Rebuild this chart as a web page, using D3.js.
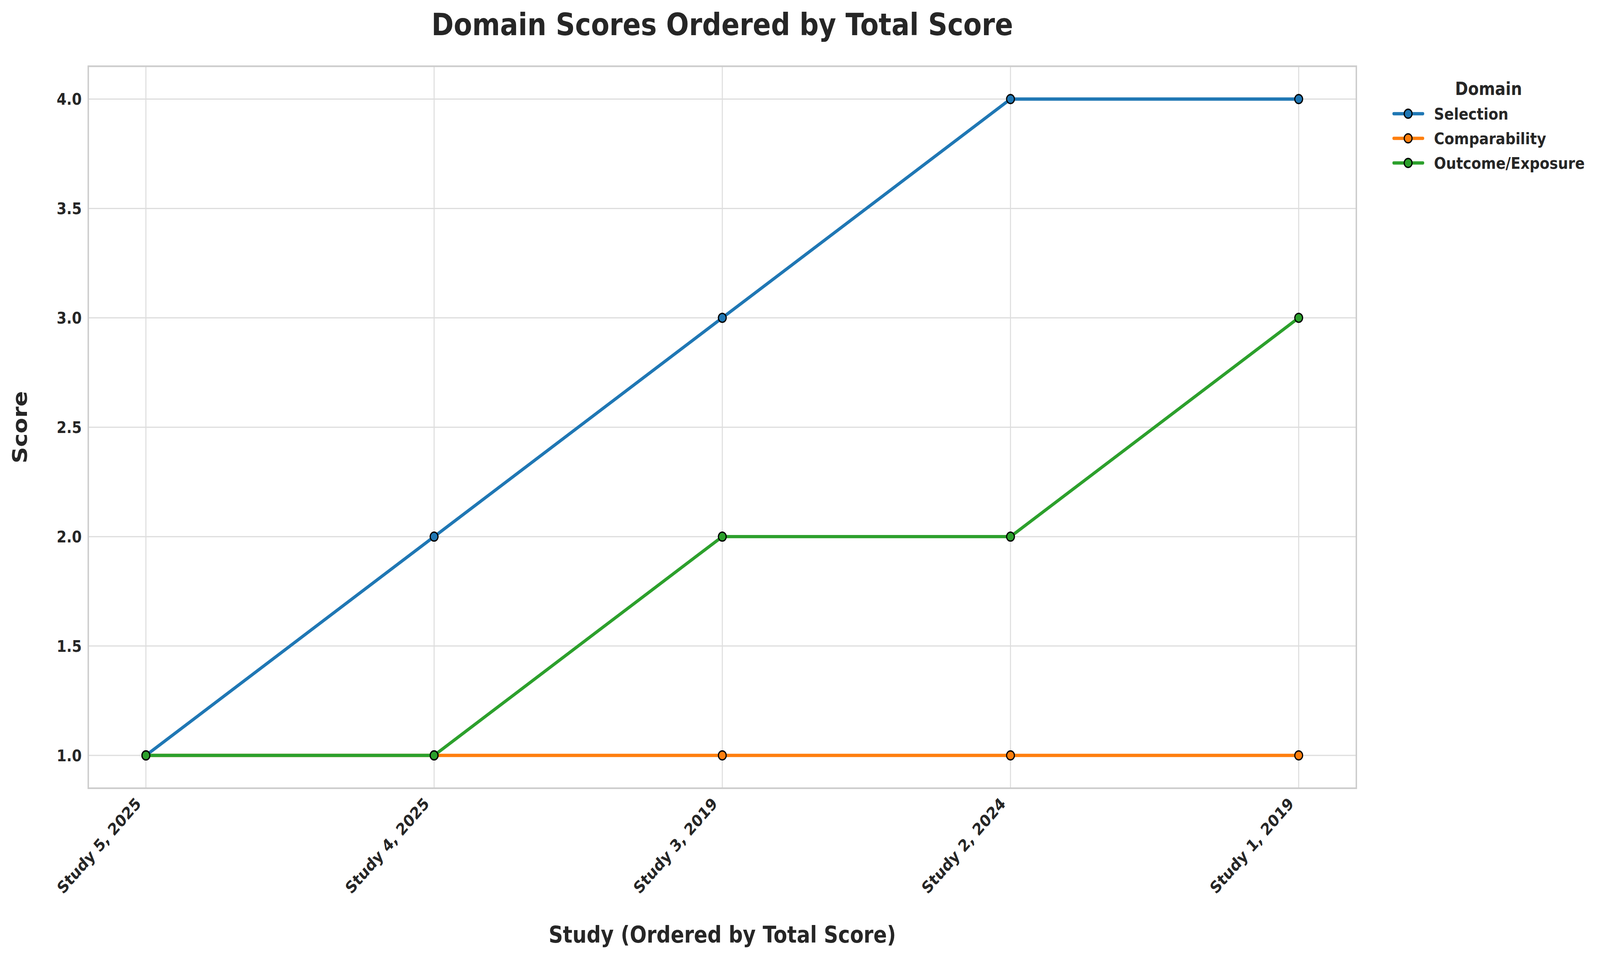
<!DOCTYPE html>
<html>
<head>
<meta charset="utf-8">
<script src="https://cdn.jsdelivr.net/npm/d3@7"></script>
<style>
html,body{margin:0;padding:0;background:#fff;overflow:hidden;}
svg{display:block;font-family:"DejaVu Sans",sans-serif;font-weight:bold;}
</style>
</head>
<body>
<script>
const studies = ["Study 5, 2025","Study 4, 2025","Study 3, 2019","Study 2, 2024","Study 1, 2019"];
const domains = ["Selection","Comparability","Outcome/Exposure"];
const selection = [1,2,3,4,4];
const comparability = [1,1,1,1,1];
const outcome = [1,1,2,2,3];
const colors = ["#1f77b4","#ff7f0e","#2ca02c"];
const yTicks = [1.0,1.5,2.0,2.5,3.0,3.5,4.0];
const series = [selection, comparability, outcome];

const W = 4695, H = 2454;
const L = 259, R = 3980, T = 169.5, B = 2017;
const txt = "#262626";

const svg = d3.select("body").append("svg")
  .attr("viewBox",`0 0 ${W} ${H}`)
  .attr("preserveAspectRatio","none")
  .style("width","100vw").style("height","100vh");
svg.append("rect").attr("width",W).attr("height",H).attr("fill","#fff");

const x = d3.scaleLinear().domain([-0.2, studies.length-1+0.2]).range([L,R]);
const y = d3.scaleLinear().domain([0.85, 4.15]).range([B,T]);

const g = svg.append("g");
g.selectAll(".vg").data(studies).enter().append("line")
  .attr("x1",(d,i)=>x(i)).attr("x2",(d,i)=>x(i)).attr("y1",T).attr("y2",B)
  .attr("stroke","#dddddd").attr("stroke-width",3);
g.selectAll(".hg").data(yTicks).enter().append("line")
  .attr("x1",L).attr("x2",R).attr("y1",d=>y(d)).attr("y2",d=>y(d))
  .attr("stroke","#dddddd").attr("stroke-width",3);

svg.append("rect").attr("x",L).attr("y",T).attr("width",R-L).attr("height",B-T)
  .attr("fill","none").attr("stroke","#cccccc").attr("stroke-width",4.2);

svg.selectAll(".yt").data(yTicks).enter().append("text")
  .attr("x",240).attr("y",d=>y(d)).attr("dy","0.36em")
  .attr("text-anchor","end").attr("font-size",41.67).attr("fill",txt)
  .text(d=>d3.format(".1f")(d));

svg.selectAll(".xt").data(studies).enter().append("text")
  .attr("transform",(d,i)=>`translate(${x(i)-12},${B+42}) rotate(-45)`)
  .attr("text-anchor","end").attr("font-size",41.67).attr("fill",txt)
  .text(d=>d);

const line = d3.line().x((d,i)=>x(i)).y(d=>y(d));
series.forEach((s,k)=>{
  svg.append("path").attr("d",line(s)).attr("fill","none")
    .attr("stroke",colors[k]).attr("stroke-width",8.33).attr("stroke-linejoin","round");
  svg.selectAll(".m"+k).data(s).enter().append("circle")
    .attr("cx",(d,i)=>x(i)).attr("cy",d=>y(d)).attr("r",11.5)
    .attr("fill",colors[k]).attr("stroke","#000").attr("stroke-width",3.3);
});

svg.append("text").attr("x",(L+R)/2).attr("y",90).attr("text-anchor","middle")
  .attr("font-size",78.7).attr("fill",txt).text("Domain Scores Ordered by Total Score");

svg.append("text").attr("x",(L+R)/2).attr("y",2412).attr("text-anchor","middle")
  .attr("font-size",58.33).attr("fill",txt).text("Study (Ordered by Total Score)");
svg.append("text").attr("transform",`translate(79,${(T+B)/2}) rotate(-90)`).attr("text-anchor","middle")
  .attr("font-size",58.33).attr("fill",txt).text("Score");

const lg = svg.append("g");
lg.append("text").attr("x",4368).attr("y",243).attr("text-anchor","middle")
  .attr("font-size",45.83).attr("fill",txt).text("Domain");
domains.forEach((d,k)=>{
  const cy = 291 + k*63;
  lg.append("line").attr("x1",4090).attr("x2",4175).attr("y1",cy).attr("y2",cy)
    .attr("stroke",colors[k]).attr("stroke-width",8.33).attr("stroke-linecap","round");
  lg.append("circle").attr("cx",4132).attr("cy",cy).attr("r",11.5)
    .attr("fill",colors[k]).attr("stroke","#000").attr("stroke-width",3.3);
  lg.append("text").attr("x",4208).attr("y",cy).attr("dy","0.36em")
    .attr("font-size",41.67).attr("fill",txt).text(d);
});
</script>
</body>
</html>
